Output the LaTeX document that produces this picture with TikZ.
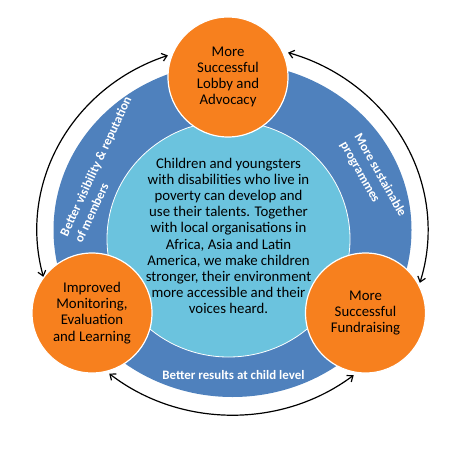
\documentclass[tikz,border=0pt]{standalone}
\usepackage{fontspec}
\setmainfont{Carlito}
\usetikzlibrary{arrows.meta,calc}
\definecolor{ringblue}{HTML}{4F81BD}
\definecolor{innerblue}{HTML}{6BC3DE}
\definecolor{orng}{HTML}{F7801E}
\tikzset{
  goal/.style={circle, fill=orng, draw=white, line width=1.2pt, minimum size=120pt, inner sep=0pt, align=center, font=\fontsize{14.8}{16.2}\selectfont},
  ringtext/.style={text=white, font=\bfseries\fontsize{12.9}{16}\selectfont, inner sep=0pt},
  cyclearrow/.style={line width=1.2pt, {Straight Barb[length=5pt,width=8pt]}-{Straight Barb[length=5pt,width=8pt]}}
}
\begin{document}
\begin{tikzpicture}[x=1pt,y=1pt]
\useasboundingbox (0,0) rectangle (462,448);
\coordinate (c) at (232.5,218);
% connector end points on the outer ellipse
\coordinate (a1) at ($(c)+(109.3:195.5pt and 185pt)$);
\coordinate (a2) at ($(c)+(230.9:195.5pt and 185pt)$);
\coordinate (a3) at ($(c)+(-16.6:195.5pt and 185pt)$);
\draw[cyclearrow] (a1) arc[start angle=109.3, end angle=194.7, x radius=195.5pt, y radius=185pt];
\draw[cyclearrow] (a2) arc[start angle=230.9, end angle=308.3, x radius=195.5pt, y radius=185pt];
\draw[cyclearrow] (a3) arc[start angle=-16.6, end angle=73.5, x radius=195.5pt, y radius=185pt];
% rings
\fill[ringblue] (c) ellipse[x radius=179pt, y radius=167pt];
\filldraw[fill=innerblue, draw=white, line width=0.8pt] (228.5,209) ellipse[x radius=121.5pt, y radius=118pt];
% centre text
\node[align=center, inner sep=0pt, font=\fontsize{14.8}{16.2}\selectfont] (mission) at (228.5,212)
 {Children and youngsters\\with disabilities who live in\\poverty can develop and\\use their talents. Together\\with local organisations in\\Africa, Asia and Latin\\America, we make children\\stronger, their environment\\more accessible and their\\voices heard.};
% goals
\node[goal] (lobby) at (228,371) {More\\Successful\\Lobby and\\Advocacy};
\node[goal] (mel) at (92,135) {Improved\\Monitoring,\\Evaluation\\and Learning};
\node[goal] (fund) at (365.5,135) {More\\Successful\\Fundraising};
% ring labels
\node[ringtext, align=left, rotate=65] (vis) at (102.8,278.3) {Better visibility \& reputation\\of members};
\node[ringtext, align=left, rotate=-60.5] (sus) at (373,268.7) {More sustainable\\programmes};
\node[ringtext, anchor=base] (res) at (233.4,69) {Better results at child level};
\end{tikzpicture}
\end{document}
